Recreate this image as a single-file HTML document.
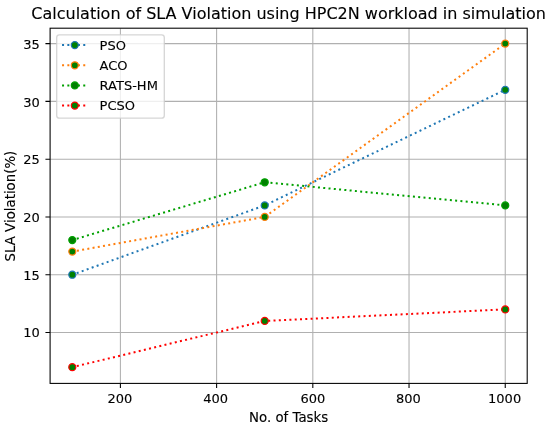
<!DOCTYPE html>
<html><head><meta charset="utf-8"><title>Calculation of SLA Violation using HPC2N workload in simulation</title>
<style>html,body{margin:0;padding:0;background:#fff;width:550px;height:427px;overflow:hidden}svg{display:block}</style>
</head><body>
<svg width="550" height="427" viewBox="0 0 550 427">
<rect x="0" y="0" width="550" height="427" fill="#ffffff"/>
<defs><clipPath id="ax"><rect x="50.1" y="28.2" width="477.10" height="355.20"/></clipPath></defs>
<path d="M120.40 28.2V383.4M216.61 28.2V383.4M312.82 28.2V383.4M409.03 28.2V383.4M505.24 28.2V383.4M50.1 332.50H527.2M50.1 274.72H527.2M50.1 216.94H527.2M50.1 159.16H527.2M50.1 101.38H527.2M50.1 43.60H527.2" stroke="#b0b0b0" stroke-width="1.07" fill="none" clip-path="url(#ax)"/>
<path d="M72.30 274.72L264.72 205.38" stroke="#1f77b4" stroke-width="2.0" stroke-dasharray="2 3.3" stroke-dashoffset="0.60" fill="none" clip-path="url(#ax)"/>
<path d="M264.72 205.38L505.24 89.82" stroke="#1f77b4" stroke-width="2.0" stroke-dasharray="2 3.3" stroke-dashoffset="204.53" fill="none" clip-path="url(#ax)"/>
<circle cx="72.30" cy="274.72" r="3.5" fill="#008000" stroke="#1f77b4" stroke-width="1.25"/>
<circle cx="264.72" cy="205.38" r="3.5" fill="#008000" stroke="#1f77b4" stroke-width="1.25"/>
<circle cx="505.24" cy="89.82" r="3.5" fill="#008000" stroke="#1f77b4" stroke-width="1.25"/>
<path d="M72.30 251.61L264.72 216.94" stroke="#ff7f0e" stroke-width="2.0" stroke-dasharray="2 3.3" stroke-dashoffset="0.60" fill="none" clip-path="url(#ax)"/>
<path d="M264.72 216.94L505.24 43.60" stroke="#ff7f0e" stroke-width="2.0" stroke-dasharray="2 3.3" stroke-dashoffset="195.52" fill="none" clip-path="url(#ax)"/>
<circle cx="72.30" cy="251.61" r="3.5" fill="#008000" stroke="#ff7f0e" stroke-width="1.25"/>
<circle cx="264.72" cy="216.94" r="3.5" fill="#008000" stroke="#ff7f0e" stroke-width="1.25"/>
<circle cx="505.24" cy="43.60" r="3.5" fill="#008000" stroke="#ff7f0e" stroke-width="1.25"/>
<path d="M72.30 240.05L264.72 182.27" stroke="#00a000" stroke-width="2.0" stroke-dasharray="2 3.3" stroke-dashoffset="0.60" fill="none" clip-path="url(#ax)"/>
<path d="M264.72 182.27L505.24 205.38" stroke="#00a000" stroke-width="2.0" stroke-dasharray="2 3.3" stroke-dashoffset="200.91" fill="none" clip-path="url(#ax)"/>
<circle cx="72.30" cy="240.05" r="3.5" fill="#008000" stroke="#00a000" stroke-width="1.25"/>
<circle cx="264.72" cy="182.27" r="3.5" fill="#008000" stroke="#00a000" stroke-width="1.25"/>
<circle cx="505.24" cy="205.38" r="3.5" fill="#008000" stroke="#00a000" stroke-width="1.25"/>
<path d="M72.30 367.17L264.72 320.94" stroke="#ff0000" stroke-width="2.0" stroke-dasharray="2 3.3" stroke-dashoffset="0.60" fill="none" clip-path="url(#ax)"/>
<path d="M264.72 320.94L505.24 309.39" stroke="#ff0000" stroke-width="2.0" stroke-dasharray="2 3.3" stroke-dashoffset="197.89" fill="none" clip-path="url(#ax)"/>
<circle cx="72.30" cy="367.17" r="3.5" fill="#008000" stroke="#ff0000" stroke-width="1.25"/>
<circle cx="264.72" cy="320.94" r="3.5" fill="#008000" stroke="#ff0000" stroke-width="1.25"/>
<circle cx="505.24" cy="309.39" r="3.5" fill="#008000" stroke="#ff0000" stroke-width="1.25"/>
<rect x="50.1" y="28.2" width="477.10" height="355.20" fill="none" stroke="#000" stroke-width="1.07" stroke-linejoin="miter" stroke-linecap="square"/>
<path d="M120.40 383.4v4.67M216.61 383.4v4.67M312.82 383.4v4.67M409.03 383.4v4.67M505.24 383.4v4.67M50.1 332.50h-4.67M50.1 274.72h-4.67M50.1 216.94h-4.67M50.1 159.16h-4.67M50.1 101.38h-4.67M50.1 43.60h-4.67" stroke="#000" stroke-width="1.07" fill="none"/>
<text x="119.95" y="403.00" font-family="'DejaVu Sans', 'Liberation Sans', sans-serif" font-size="13.0" text-anchor="middle" fill="#000" stroke="#000" stroke-width="0.12">200</text>
<text x="215.71" y="403.00" font-family="'DejaVu Sans', 'Liberation Sans', sans-serif" font-size="13.0" text-anchor="middle" fill="#000" stroke="#000" stroke-width="0.12">400</text>
<text x="312.82" y="403.00" font-family="'DejaVu Sans', 'Liberation Sans', sans-serif" font-size="13.0" text-anchor="middle" fill="#000" stroke="#000" stroke-width="0.12">600</text>
<text x="408.48" y="403.00" font-family="'DejaVu Sans', 'Liberation Sans', sans-serif" font-size="13.0" text-anchor="middle" fill="#000" stroke="#000" stroke-width="0.12">800</text>
<text x="504.64" y="403.00" font-family="'DejaVu Sans', 'Liberation Sans', sans-serif" font-size="13.0" text-anchor="middle" fill="#000" stroke="#000" stroke-width="0.12">1000</text>
<text x="39.90" y="337.30" font-family="'DejaVu Sans', 'Liberation Sans', sans-serif" font-size="13.0" text-anchor="end" fill="#000" stroke="#000" stroke-width="0.12">10</text>
<text x="39.90" y="279.60" font-family="'DejaVu Sans', 'Liberation Sans', sans-serif" font-size="13.0" text-anchor="end" fill="#000" stroke="#000" stroke-width="0.12">15</text>
<text x="39.90" y="221.70" font-family="'DejaVu Sans', 'Liberation Sans', sans-serif" font-size="13.0" text-anchor="end" fill="#000" stroke="#000" stroke-width="0.12">20</text>
<text x="39.90" y="164.30" font-family="'DejaVu Sans', 'Liberation Sans', sans-serif" font-size="13.0" text-anchor="end" fill="#000" stroke="#000" stroke-width="0.12">25</text>
<text x="39.90" y="106.60" font-family="'DejaVu Sans', 'Liberation Sans', sans-serif" font-size="13.0" text-anchor="end" fill="#000" stroke="#000" stroke-width="0.12">30</text>
<text x="39.90" y="48.80" font-family="'DejaVu Sans', 'Liberation Sans', sans-serif" font-size="13.0" text-anchor="end" fill="#000" stroke="#000" stroke-width="0.12">35</text>
<text x="288.60" y="421.60" font-family="'DejaVu Sans', 'Liberation Sans', sans-serif" font-size="13.34" text-anchor="middle" fill="#000" stroke="#000" stroke-width="0.12">No. of Tasks</text>
<text x="0" y="0" transform="translate(15.3 206.1) rotate(-90)" font-family="'DejaVu Sans', 'Liberation Sans', sans-serif" font-size="13.34" text-anchor="middle" fill="#000" stroke="#000" stroke-width="0.12">SLA Violation(%)</text>
<text x="288.60" y="18.60" font-family="'DejaVu Sans', 'Liberation Sans', sans-serif" font-size="16.0" text-anchor="middle" fill="#000" stroke="#000" stroke-width="0.12">Calculation of SLA Violation using HPC2N workload in simulation</text>
<rect x="56.7" y="34.8" width="107.60" height="83.40" rx="2.67" fill="#ffffff" fill-opacity="0.8" stroke="#cccccc" stroke-opacity="0.8" stroke-width="1.33"/>
<path d="M62.05 45.10H87.55" stroke="#1f77b4" stroke-width="2.0" stroke-dasharray="2 3.3" fill="none"/>
<circle cx="74.8" cy="45.10" r="3.5" fill="#008000" stroke="#1f77b4" stroke-width="1.25"/>
<text x="99.60" y="49.70" font-family="'DejaVu Sans', 'Liberation Sans', sans-serif" font-size="13.0" text-anchor="start" fill="#000" stroke="#000" stroke-width="0.12">PSO</text>
<path d="M62.05 65.25H87.55" stroke="#ff7f0e" stroke-width="2.0" stroke-dasharray="2 3.3" fill="none"/>
<circle cx="74.8" cy="65.25" r="3.5" fill="#008000" stroke="#ff7f0e" stroke-width="1.25"/>
<text x="99.60" y="69.83" font-family="'DejaVu Sans', 'Liberation Sans', sans-serif" font-size="13.0" text-anchor="start" fill="#000" stroke="#000" stroke-width="0.12">ACO</text>
<path d="M62.05 85.40H87.55" stroke="#00a000" stroke-width="2.0" stroke-dasharray="2 3.3" fill="none"/>
<circle cx="74.8" cy="85.40" r="3.5" fill="#008000" stroke="#00a000" stroke-width="1.25"/>
<text x="99.60" y="89.96" font-family="'DejaVu Sans', 'Liberation Sans', sans-serif" font-size="13.0" text-anchor="start" fill="#000" stroke="#000" stroke-width="0.12">RATS-HM</text>
<path d="M62.05 105.55H87.55" stroke="#ff0000" stroke-width="2.0" stroke-dasharray="2 3.3" fill="none"/>
<circle cx="74.8" cy="105.55" r="3.5" fill="#008000" stroke="#ff0000" stroke-width="1.25"/>
<text x="99.60" y="110.09" font-family="'DejaVu Sans', 'Liberation Sans', sans-serif" font-size="13.0" text-anchor="start" fill="#000" stroke="#000" stroke-width="0.12">PCSO</text>
</svg>
</body></html>
